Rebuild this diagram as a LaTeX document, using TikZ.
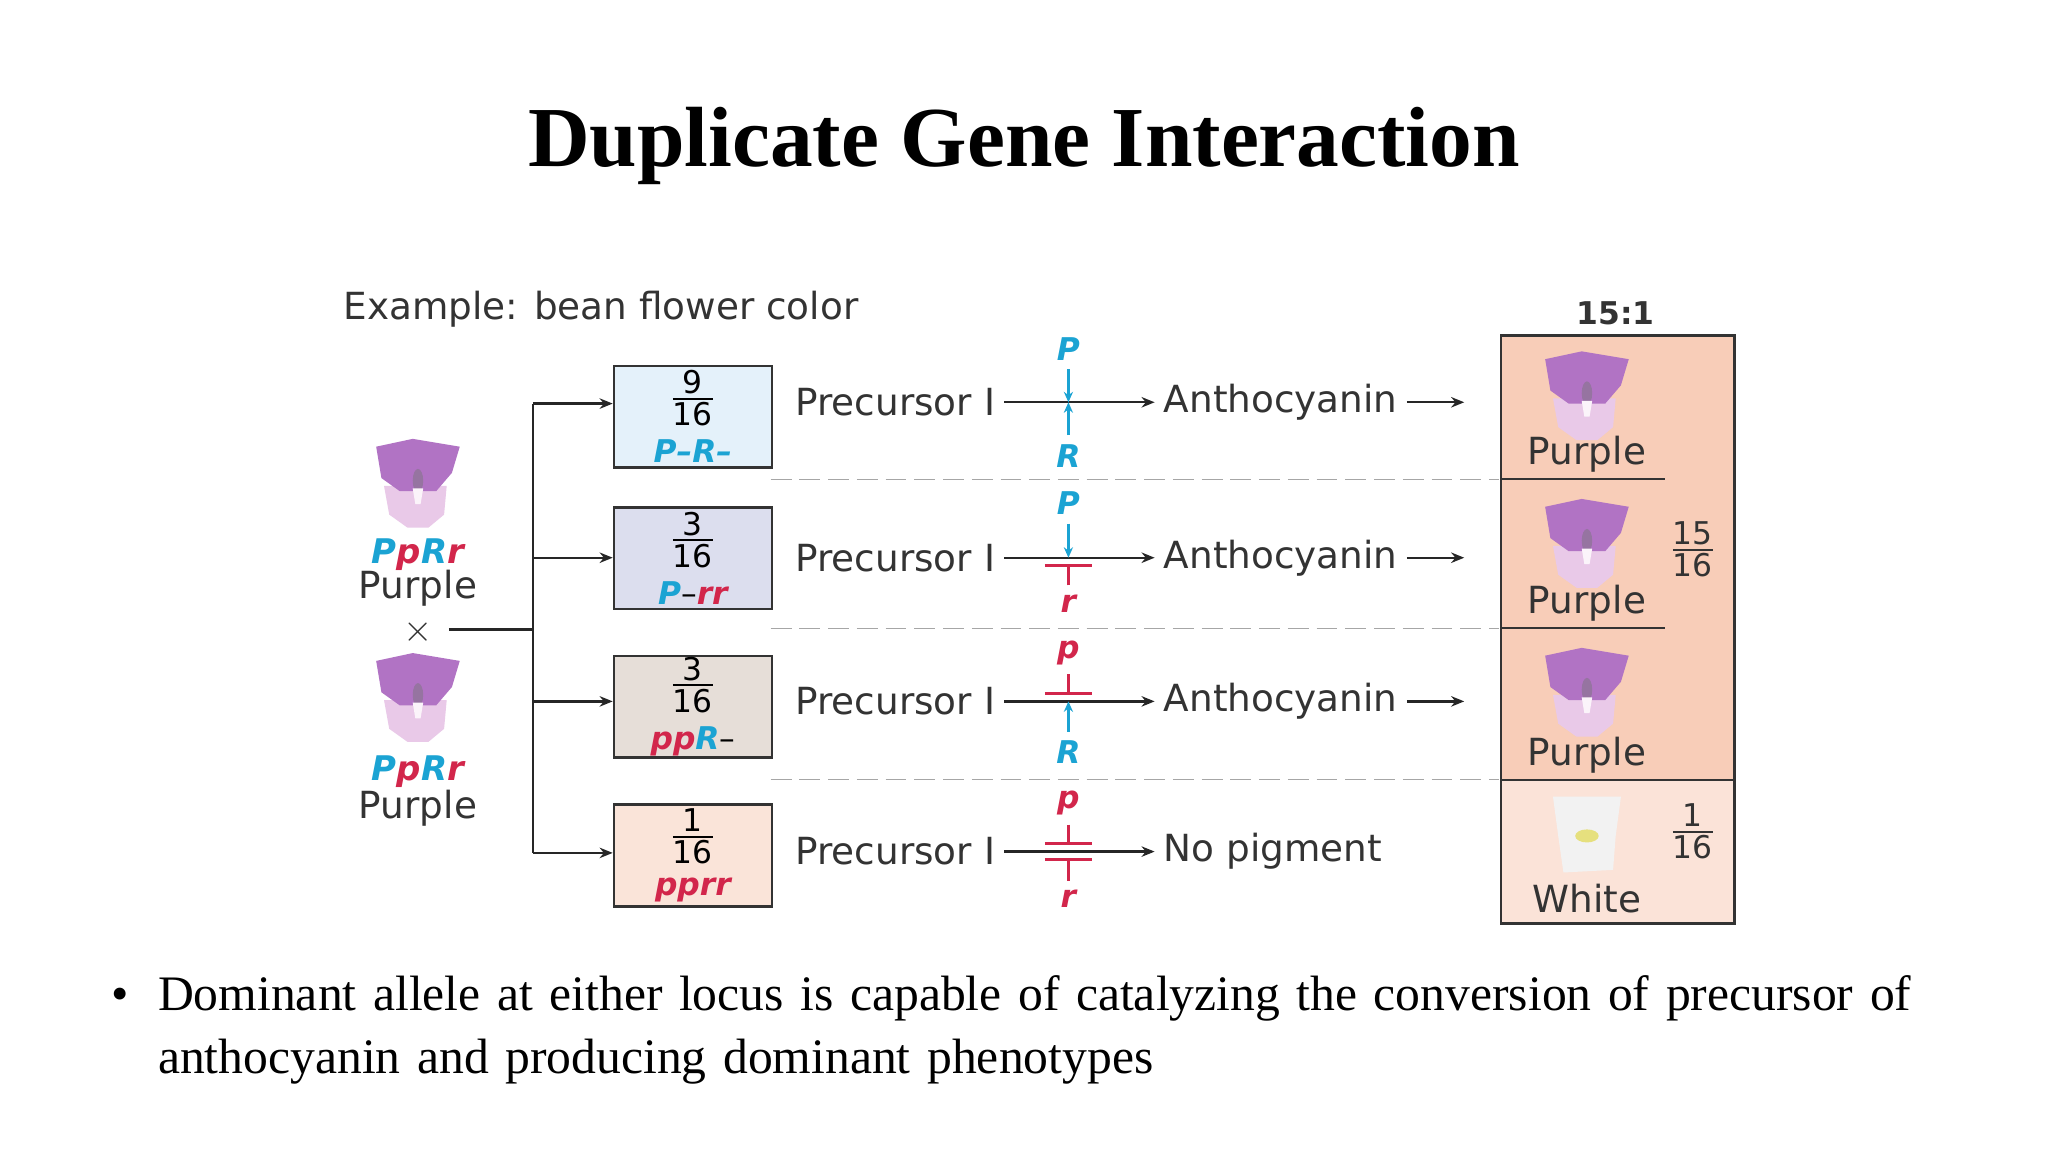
\documentclass[tikz,border=0pt]{standalone}
\usepackage{fontspec}
\setmainfont{Liberation Serif}
\newfontfamily\dsans{DejaVu Sans}
\usetikzlibrary{arrows.meta}
\definecolor{cy}{HTML}{1BA3D3}
\definecolor{rd}{HTML}{D2264B}
\definecolor{bxa}{HTML}{E4F1FA}
\definecolor{bxb}{HTML}{DCDEEE}
\definecolor{bxc}{HTML}{E6DED8}
\definecolor{bxd}{HTML}{FAE4D9}
\definecolor{pk}{HTML}{F8CDB8}
\definecolor{pkl}{HTML}{FBE3D8}
\definecolor{vio}{HTML}{B173C4}
\definecolor{vil}{HTML}{E9C9E8}
\newcommand\fr[2]{\begin{tabular}{@{}c@{}}#1\\[-2pt]\hline\noalign{\vskip1pt}#2\end{tabular}}
\setlength{\arrayrulewidth}{0.7pt}
\tikzset{
 lab/.style={font=\dsans\fontsize{14.3}{15}\selectfont, text=black!80},
 gbox/.style={draw=black!80, line width=0.9pt, minimum width=60.5pt, minimum height=39pt, inner sep=0pt, font=\dsans\fontsize{12}{12}\selectfont, align=center},
 arr/.style={-{Stealth[length=5pt,width=4pt]}, line width=0.9pt, black!85},
 carr/.style={-{Stealth[length=4pt,width=3.5pt]}, line width=1pt, cy},
 inh/.style={line width=1pt, rd},
 dsh/.style={black!35, dashed, dash pattern=on 8pt off 3pt, line width=0.5pt},
 flower/.pic={
  \fill[vil] (-26,0) -- (22,0) -- (20,22) -- (8,32) -- (-8,32) -- (-22,22) -- cycle;
  \fill[vio] (-32,-30) -- (-4,-36) -- (32,-30) -- (26,-10) -- (14,4) -- (-14,4) -- (-28,-6) -- cycle;
  \fill[vio!70!black!80] (0,-4) ellipse (4 and 9);
  \fill[white!80!vil] (-4,2) -- (4,2) -- (2,14) -- (-2,14) -- cycle;
 },
 wflower/.pic={
  \fill[black!5] (-26,-30) -- (26,-30) -- (22,0) -- (20,26) -- (-18,28) -- (-22,0) -- cycle;
  \fill[yellow!50!olive!45] (0,0) ellipse (9 and 5);
 }
}
\begin{document}
\begin{tikzpicture}[x=0.5pt,y=-0.5pt]
\useasboundingbox (0,0) rectangle (1568,882);
\fill[white] (0,0) rectangle (1568,882);
\node[font=\bfseries\fontsize{32.7}{38}\selectfont] (title) at (784,112) {Duplicate Gene Interaction};
\node[lab, anchor=west] (ex) at (256,237) {Example: bean flower color};
% right box
\fill[pk] (1149,257) rectangle (1328,597);
\fill[pkl] (1149,597) rectangle (1328,707);
\draw[black!80, line width=0.9pt] (1149,257) rectangle (1328,707);
\draw[black!80, line width=0.7pt] (1149,367) -- (1275,367) (1149,481) -- (1275,481) (1149,597) -- (1328,597);
\node[lab, font=\dsans\bfseries\fontsize{12}{14}\selectfont] (ratio) at (1237,240) {15:1};
% dashed lines
\foreach \y in {367,481,597} \draw[dsh] (590,\y) -- (1148,\y);
% parents
\pic at (320,372) {flower};
\node[lab, font=\dsans\bfseries\itshape\fontsize{13}{15}\selectfont] (g1) at (320,425) {\textcolor{cy}{P}\textcolor{rd}{p}\textcolor{cy}{R}\textcolor{rd}{r}};
\node[lab, inner sep=1pt] (p1) at (320,450) {Purple};
\node[lab, inner sep=0pt] (x) at (320,484) {$\times$};
\pic at (320,536) {flower};
\node[lab, font=\dsans\bfseries\itshape\fontsize{13}{15}\selectfont] (g2) at (320,591) {\textcolor{cy}{P}\textcolor{rd}{p}\textcolor{cy}{R}\textcolor{rd}{r}};
\node[lab] (p2) at (320,619) {Purple};
% boxes
\node[gbox, fill=bxa] (b1) at (530.5,319) {\fr{9}{16}\\[1pt]\textcolor{cy}{\bfseries\itshape P\textendash R\textendash}};
\node[gbox, fill=bxb] (b2) at (530.5,427.5) {\fr{3}{16}\\[1pt]\textcolor{cy}{\bfseries\itshape P}\textendash\textcolor{rd}{\bfseries\itshape rr}};
\node[gbox, fill=bxc] (b3) at (530.5,541) {\fr{3}{16}\\[1pt]\textcolor{rd}{\bfseries\itshape pp}\textcolor{cy}{\bfseries\itshape R}\textendash};
\node[gbox, fill=bxd] (b4) at (530.5,655) {\fr{1}{16}\\[1pt]\textcolor{rd}{\bfseries\itshape pprr}};
% branching
\coordinate (j) at (408,482);
\coordinate (t) at (408,309);
\coordinate (bt) at (408,653);
\draw[line width=1pt, black!85] ([xshift=6pt]x.east|-j) -- (j) (t) -- (bt);
\draw[arr] (t) -- (b1.west|-t);
\draw[arr] (408,427) -- (b2.west|-0,427);
\draw[arr] (408,537) -- (b3.west|-0,537);
\draw[arr] (bt) -- (b4.west|-bt);
% pathways
\foreach \i/\y in {1/308,2/427,3/537,4/652}{
 \node[lab, anchor=west] (pre\i) at (602,\y) {Precursor I};
 \coordinate (c\i) at (818,\y);
}
\node[lab, anchor=west] (an1) at (884,308) {Anthocyanin};
\node[lab, anchor=west] (an2) at (884,427) {Anthocyanin};
\node[lab, anchor=west] (an3) at (884,537) {Anthocyanin};
\node[lab, anchor=west] (np) at (884,652) {No pigment};
\draw[arr] (pre1.east) -- (an1.west);
\draw[arr] (pre2.east) -- (an2.west);
\draw[arr] (pre3.east) -- (an3.west);
\draw[arr] (pre4.east) -- (np.west);
\foreach \i in {1,2,3}{\draw[arr] (an\i.east) -- ++(44,0) coordinate (e\i);}
\tikzset{al/.style={lab, font=\dsans\bfseries\itshape\fontsize{12}{14}\selectfont}}
% row 1
\node[al, text=cy] (u1) at (818,267) {P};
\node[al, text=cy] (d1) at (818,349) {R};
\draw[carr] (u1.south) -- (c1);
\draw[carr] (d1.north) -- (c1);
% row 2
\node[al, text=cy] (u2) at (818,385) {P};
\node[al, text=rd] (d2) at (818,462) {r};
\draw[carr] (u2.south) -- (c2);
\draw[inh] (d2.north) -- (818,433) (800,433) -- (836,433);
% row 3
\node[al, text=rd] (u3) at (818,500) {p};
\node[al, text=cy] (d3) at (818,576) {R};
\draw[inh] (u3.south) -- (818,531) (800,531) -- (836,531);
\draw[carr] (d3.north) -- (c3);
% row 4
\node[al, text=rd] (u4) at (818,615) {p};
\node[al, text=rd] (d4) at (818,688) {r};
\draw[inh] (u4.south) -- (818,646) (800,646) -- (836,646);
\draw[inh] (d4.north) -- (818,658) (800,658) -- (836,658);
% phenotypes
\pic at (1215,305) {flower};
\pic at (1215,418) {flower};
\pic at (1215,532) {flower};
\pic at (1215,640) {wflower};
\node[lab] (ph1) at (1215,348) {Purple};
\node[lab] (ph2) at (1215,462) {Purple};
\node[lab] (ph3) at (1215,578) {Purple};
\node[lab] (ph4) at (1215,688) {White};
\node[lab, font=\dsans\fontsize{12}{12}\selectfont] (f15) at (1296,424) {\fr{15}{16}};
\node[lab, font=\dsans\fontsize{12}{12}\selectfont] (f1) at (1296,640) {\fr{1}{16}};
% bullet
\node[anchor=north west, align=left, text width=740pt, font=\fontsize{19}{24}\selectfont] (bul) at (72,740)
 {\makebox[21pt][l]{\hspace{3pt}\textbullet}Dominant allele at either locus is capable of catalyzing the conversion of precursor of\\ \hspace*{21pt}anthocyanin and producing dominant phenotypes};
\end{tikzpicture}
\end{document}
